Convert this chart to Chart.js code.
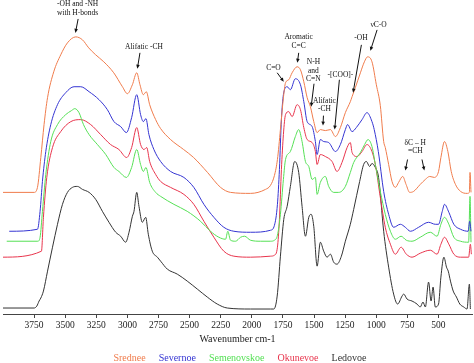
<!DOCTYPE html>
<html>
<head>
<meta charset="utf-8">
<script src="https://cdn.jsdelivr.net/npm/chart.js@4.4.1/dist/chart.umd.min.js"></script>
<style>
  html, body { margin: 0; padding: 0; background: #fff; }
  canvas { display: block; }
</style>
</head>
<body>
<canvas id="c" width="474" height="363"></canvas>
<script>
// Wavenumber (cm-1) and offset absorbance (a.u.)
const seriesNames = ['Srednee', 'Severnoe', 'Semenovskoe', 'Okunevoe', 'Ledovoe'];
const seriesColors = ['#F07C4C', '#3434D2', '#55E055', '#E8344C', '#333333'];
const xTicks = [3750, 3500, 3250, 3000, 2750, 2500, 2250, 2000, 1750, 1500, 1250, 1000, 750, 500];

const srednee = [[4000,122],[3750,122],[3723,127],[3696,157],[3670,190],[3642,217],[3592,243],[3536,260],[3482,272],[3415,278],[3361,275],[3311,267],[3255,260],[3190,253],[3110,242],[3040,228],[3000,221],[2960,230],[2925,242],[2899,230],[2872,220],[2848,223],[2821,210],[2773,195],[2733,186],[2653,175],[2548,165],[2468,157],[2356,142],[2251,127],[2171,122],[2010,121],[1890,125],[1850,129],[1818,139],[1794,155],[1770,185],[1746,217],[1729,232],[1703,235],[1676,242],[1636,248],[1609,245],[1582,233],[1555,217],[1529,208],[1502,193],[1475,182],[1449,185],[1409,184],[1368,185],[1328,178],[1288,187],[1248,202],[1208,213],[1194,218],[1168,227],[1127,242],[1095,253],[1069,258],[1034,253],[999,230],[967,209],[940,173],[927,167],[900,150],[873,133],[846,127],[820,132],[787,138],[760,130],[731,122],[699,123],[646,130],[605,135],[570,138],[533,137],[499,143],[480,157],[451,173],[424,163],[397,143],[363,130],[322,123],[270,121],[251,122],[246,142],[238,122]];

const severnoe = [[3950,83],[3723,85],[3702,103],[3683,133],[3656,163],[3616,190],[3562,210],[3496,222],[3429,228],[3375,228],[3308,223],[3228,215],[3161,205],[3108,193],[3054,188],[3008,182],[2966,197],[2925,220],[2894,200],[2872,193],[2851,196],[2827,180],[2787,165],[2733,153],[2653,143],[2546,137],[2466,127],[2385,110],[2305,97],[2225,87],[2144,83],[2010,82],[1850,84],[1818,89],[1794,110],[1778,145],[1762,195],[1746,220],[1716,228],[1690,225],[1650,236],[1609,230],[1582,213],[1555,193],[1515,188],[1489,173],[1475,160],[1449,175],[1422,173],[1382,172],[1328,163],[1288,170],[1248,185],[1230,190],[1194,183],[1160,187],[1114,195],[1074,202],[1034,193],[1016,185],[983,163],[940,123],[900,100],[860,87],[806,90],[766,87],[725,83],[659,87],[579,92],[525,90],[499,90],[469,103],[451,110],[416,102],[376,90],[322,85],[261,83],[249,93],[238,83]];

const semenovskoe = [[3970,73],[3720,73],[3702,77],[3683,103],[3656,140],[3616,173],[3562,190],[3496,200],[3450,204],[3423,206],[3389,202],[3353,190],[3308,180],[3241,170],[3174,160],[3108,147],[3068,143],[3008,137],[2966,147],[2925,165],[2894,150],[2872,143],[2851,147],[2821,132],[2773,122],[2733,118],[2626,110],[2519,103],[2412,93],[2332,83],[2265,77],[2211,75],[2193,83],[2171,74],[2131,73],[2090,77],[2058,78],[2010,74],[1930,73],[1850,73],[1818,74],[1794,79],[1770,100],[1746,135],[1729,155],[1690,163],[1650,178],[1623,185],[1596,173],[1569,153],[1542,148],[1515,135],[1489,137],[1475,120],[1449,132],[1409,138],[1382,128],[1342,122],[1302,122],[1248,128],[1208,142],[1181,152],[1127,162],[1093,170],[1066,175],[1034,168],[1007,150],[967,123],[927,100],[886,83],[846,75],[800,78],[758,74],[712,73],[646,77],[565,82],[511,78],[480,90],[451,97],[416,90],[376,77],[322,73],[257,72],[246,118],[238,72]];

const okunevoe = [[4000,57],[3691,63],[3675,97],[3648,137],[3602,167],[3536,183],[3455,193],[3375,195],[3295,190],[3215,180],[3135,170],[3068,165],[3006,157],[2966,167],[2925,187],[2894,170],[2867,165],[2845,167],[2821,153],[2773,140],[2733,133],[2653,127],[2546,120],[2466,110],[2385,93],[2305,77],[2225,63],[2144,58],[2010,57],[1850,58],[1818,59],[1794,67],[1778,95],[1762,145],[1746,180],[1729,200],[1703,203],[1676,198],[1636,210],[1609,205],[1582,187],[1555,175],[1515,172],[1489,163],[1475,150],[1449,160],[1409,158],[1355,153],[1315,143],[1275,152],[1234,167],[1208,172],[1194,162],[1154,158],[1114,163],[1074,170],[1034,163],[1007,150],[967,117],[927,87],[886,70],[846,60],[800,67],[758,60],[712,57],[646,61],[565,64],[511,60],[480,70],[451,77],[416,70],[376,60],[322,57],[257,57],[243,70],[235,60]];

const ledovoe = [[4000,6],[3750,6],[3728,8],[3710,13],[3696,16],[3675,23],[3642,43],[3602,67],[3562,90],[3522,110],[3482,122],[3442,127],[3402,128],[3361,125],[3308,122],[3255,115],[3201,103],[3148,92],[3094,82],[3054,78],[3014,72],[2987,82],[2960,98],[2947,103],[2925,122],[2907,108],[2880,92],[2853,97],[2832,80],[2800,63],[2759,57],[2733,53],[2679,45],[2599,40],[2519,33],[2438,25],[2358,17],[2278,10],[2197,6],[2010,5],[1850,5],[1823,5],[1796,18],[1770,58],[1743,95],[1716,108],[1690,128],[1655,153],[1623,142],[1596,108],[1569,78],[1542,97],[1523,100],[1502,88],[1475,48],[1449,72],[1422,63],[1395,57],[1368,60],[1342,52],[1315,50],[1280,58],[1248,73],[1208,90],[1181,105],[1133,133],[1101,150],[1079,153],[1053,148],[1034,151],[1007,147],[981,137],[940,83],[900,47],[860,20],[828,10],[792,18],[779,20],[752,15],[712,13],[672,10],[646,7],[624,12],[605,7],[579,32],[559,13],[543,27],[525,7],[499,10],[480,37],[456,57],[435,47],[421,43],[403,33],[381,23],[355,17],[328,10],[296,7],[270,5],[251,30],[243,5]];

const seriesData = [srednee, severnoe, semenovskoe, okunevoe, ledovoe];

// Band annotations: text lines anchored at (wavenumber, level); arrows from -> to
const annotations = [
  { lines: ['-OH and -NH', 'with H-bonds'], wn: 3400, v: 311, arrow: [[3396, 296], [3418, 282]] },
  { lines: ['Alifatic -CH'], wn: 2867, v: 268, arrow: [[2899, 262], [2920, 246]] },
  { lines: ['C=O'], wn: 1826, v: 247, arrow: [[1796, 242], [1743, 233]] },
  { lines: ['Aromatic', 'C=C'], wn: 1624, v: 277.5, arrow: [[1623, 262], [1634, 252]] },
  { lines: ['N-H', 'and', 'C=N'], wn: 1505, v: 252.7, arrow: [[1500, 231], [1523, 208]] },
  { lines: ['Alifatic', '-CH'], wn: 1416, v: 214, arrow: [[1424, 199], [1428, 189]] },
  { lines: ['-[COO]-'], wn: 1288, v: 240, arrow: [[1296, 235], [1334, 185]] },
  { lines: ['-OH'], wn: 1122, v: 276.7, arrow: [[1119, 270], [1186, 222]] },
  { lines: ['\u03BDC-O'], wn: 981, v: 290, arrow: [[993, 285], [1047, 264]] },
  { lines: ['\u03B4C \u2013 H', '=CH'], wn: 686, v: 172, arrow: [[748, 155], [766, 144]] },
  { lines: [], wn: 686, v: 172, arrow: [[632, 155], [613, 144]] }
];

const annotationPlugin = {
  id: 'bandNotes',
  afterDatasetsDraw(chart) {
    const { ctx, scales: { x, y } } = chart;
    ctx.save();
    ctx.fillStyle = '#111';
    ctx.strokeStyle = '#111';
    ctx.lineWidth = 1;
    ctx.font = '7.5px "Liberation Serif", "Times New Roman", serif';
    ctx.textAlign = 'center';
    ctx.textBaseline = 'middle';
    annotations.forEach(a => {
      const px = x.getPixelForValue(a.wn);
      const py = y.getPixelForValue(a.v);
      a.lines.forEach((t, i) => ctx.fillText(t, px, py + i * 8.6));
      if (a.arrow) {
        const x0 = x.getPixelForValue(a.arrow[0][0]), y0 = y.getPixelForValue(a.arrow[0][1]);
        const x1 = x.getPixelForValue(a.arrow[1][0]), y1 = y.getPixelForValue(a.arrow[1][1]);
        const ang = Math.atan2(y1 - y0, x1 - x0);
        const hl = 4, hw = 1.8;
        ctx.beginPath();
        ctx.moveTo(x0, y0);
        ctx.lineTo(x1 - Math.cos(ang) * hl * 0.8, y1 - Math.sin(ang) * hl * 0.8);
        ctx.stroke();
        ctx.beginPath();
        ctx.moveTo(x1, y1);
        ctx.lineTo(x1 - Math.cos(ang) * hl - Math.sin(ang) * hw, y1 - Math.sin(ang) * hl + Math.cos(ang) * hw);
        ctx.lineTo(x1 - Math.cos(ang) * hl + Math.sin(ang) * hw, y1 - Math.sin(ang) * hl - Math.cos(ang) * hw);
        ctx.closePath();
        ctx.fill();
      }
    });
    ctx.restore();
  }
};

const serif = '"Liberation Serif", "Times New Roman", serif';

new Chart(document.getElementById('c'), {
  type: 'line',
  data: {
    datasets: seriesNames.map((name, i) => ({
      label: name,
      data: seriesData[i].slice().sort((a, b) => a[0] - b[0]).map(p => ({ x: p[0], y: p[1] })),
      borderColor: seriesColors[i],
      backgroundColor: seriesColors[i],
      borderWidth: 1,
      pointRadius: 0,
      fill: false,
      cubicInterpolationMode: 'monotone'
    }))
  },
  options: {
    responsive: false,
    animation: false,
    events: [],
    layout: { padding: { left: 3, right: 2, top: 0, bottom: -10 } },
    scales: {
      x: {
        type: 'linear',
        reverse: true,
        min: 230,
        max: 4000,
        afterBuildTicks: axis => { axis.ticks = xTicks.map(v => ({ value: v })); },
        grid: { display: true, drawOnChartArea: false, drawTicks: true, tickLength: 4, color: '#444' },
        border: { display: true, color: '#444', width: 1 },
        ticks: { autoSkip: false, maxRotation: 0, padding: 3, color: '#222',
                 font: { family: serif, size: 9.5, lineHeight: 1 },
                 callback: v => String(v) },
        title: { display: true, text: 'Wavenumber cm-1', color: '#222',
                 font: { family: serif, size: 10, lineHeight: 1 }, padding: { top: 0.5, bottom: 1 } }
      },
      y: { display: false, min: 0, max: 315 }
    },
    plugins: {
      tooltip: { enabled: false },
      legend: {
        position: 'bottom',
        labels: {
          boxWidth: 0,
          boxHeight: 0,
          padding: 8,
          font: { family: serif, size: 10 },
          generateLabels: chart => chart.data.datasets.map((ds, i) => ({
            text: ds.label,
            fontColor: ds.borderColor,
            fillStyle: 'rgba(0,0,0,0)',
            strokeStyle: 'rgba(0,0,0,0)',
            lineWidth: 0,
            hidden: false,
            datasetIndex: i
          }))
        }
      }
    }
  },
  plugins: [annotationPlugin]
});
</script>
</body>
</html>
